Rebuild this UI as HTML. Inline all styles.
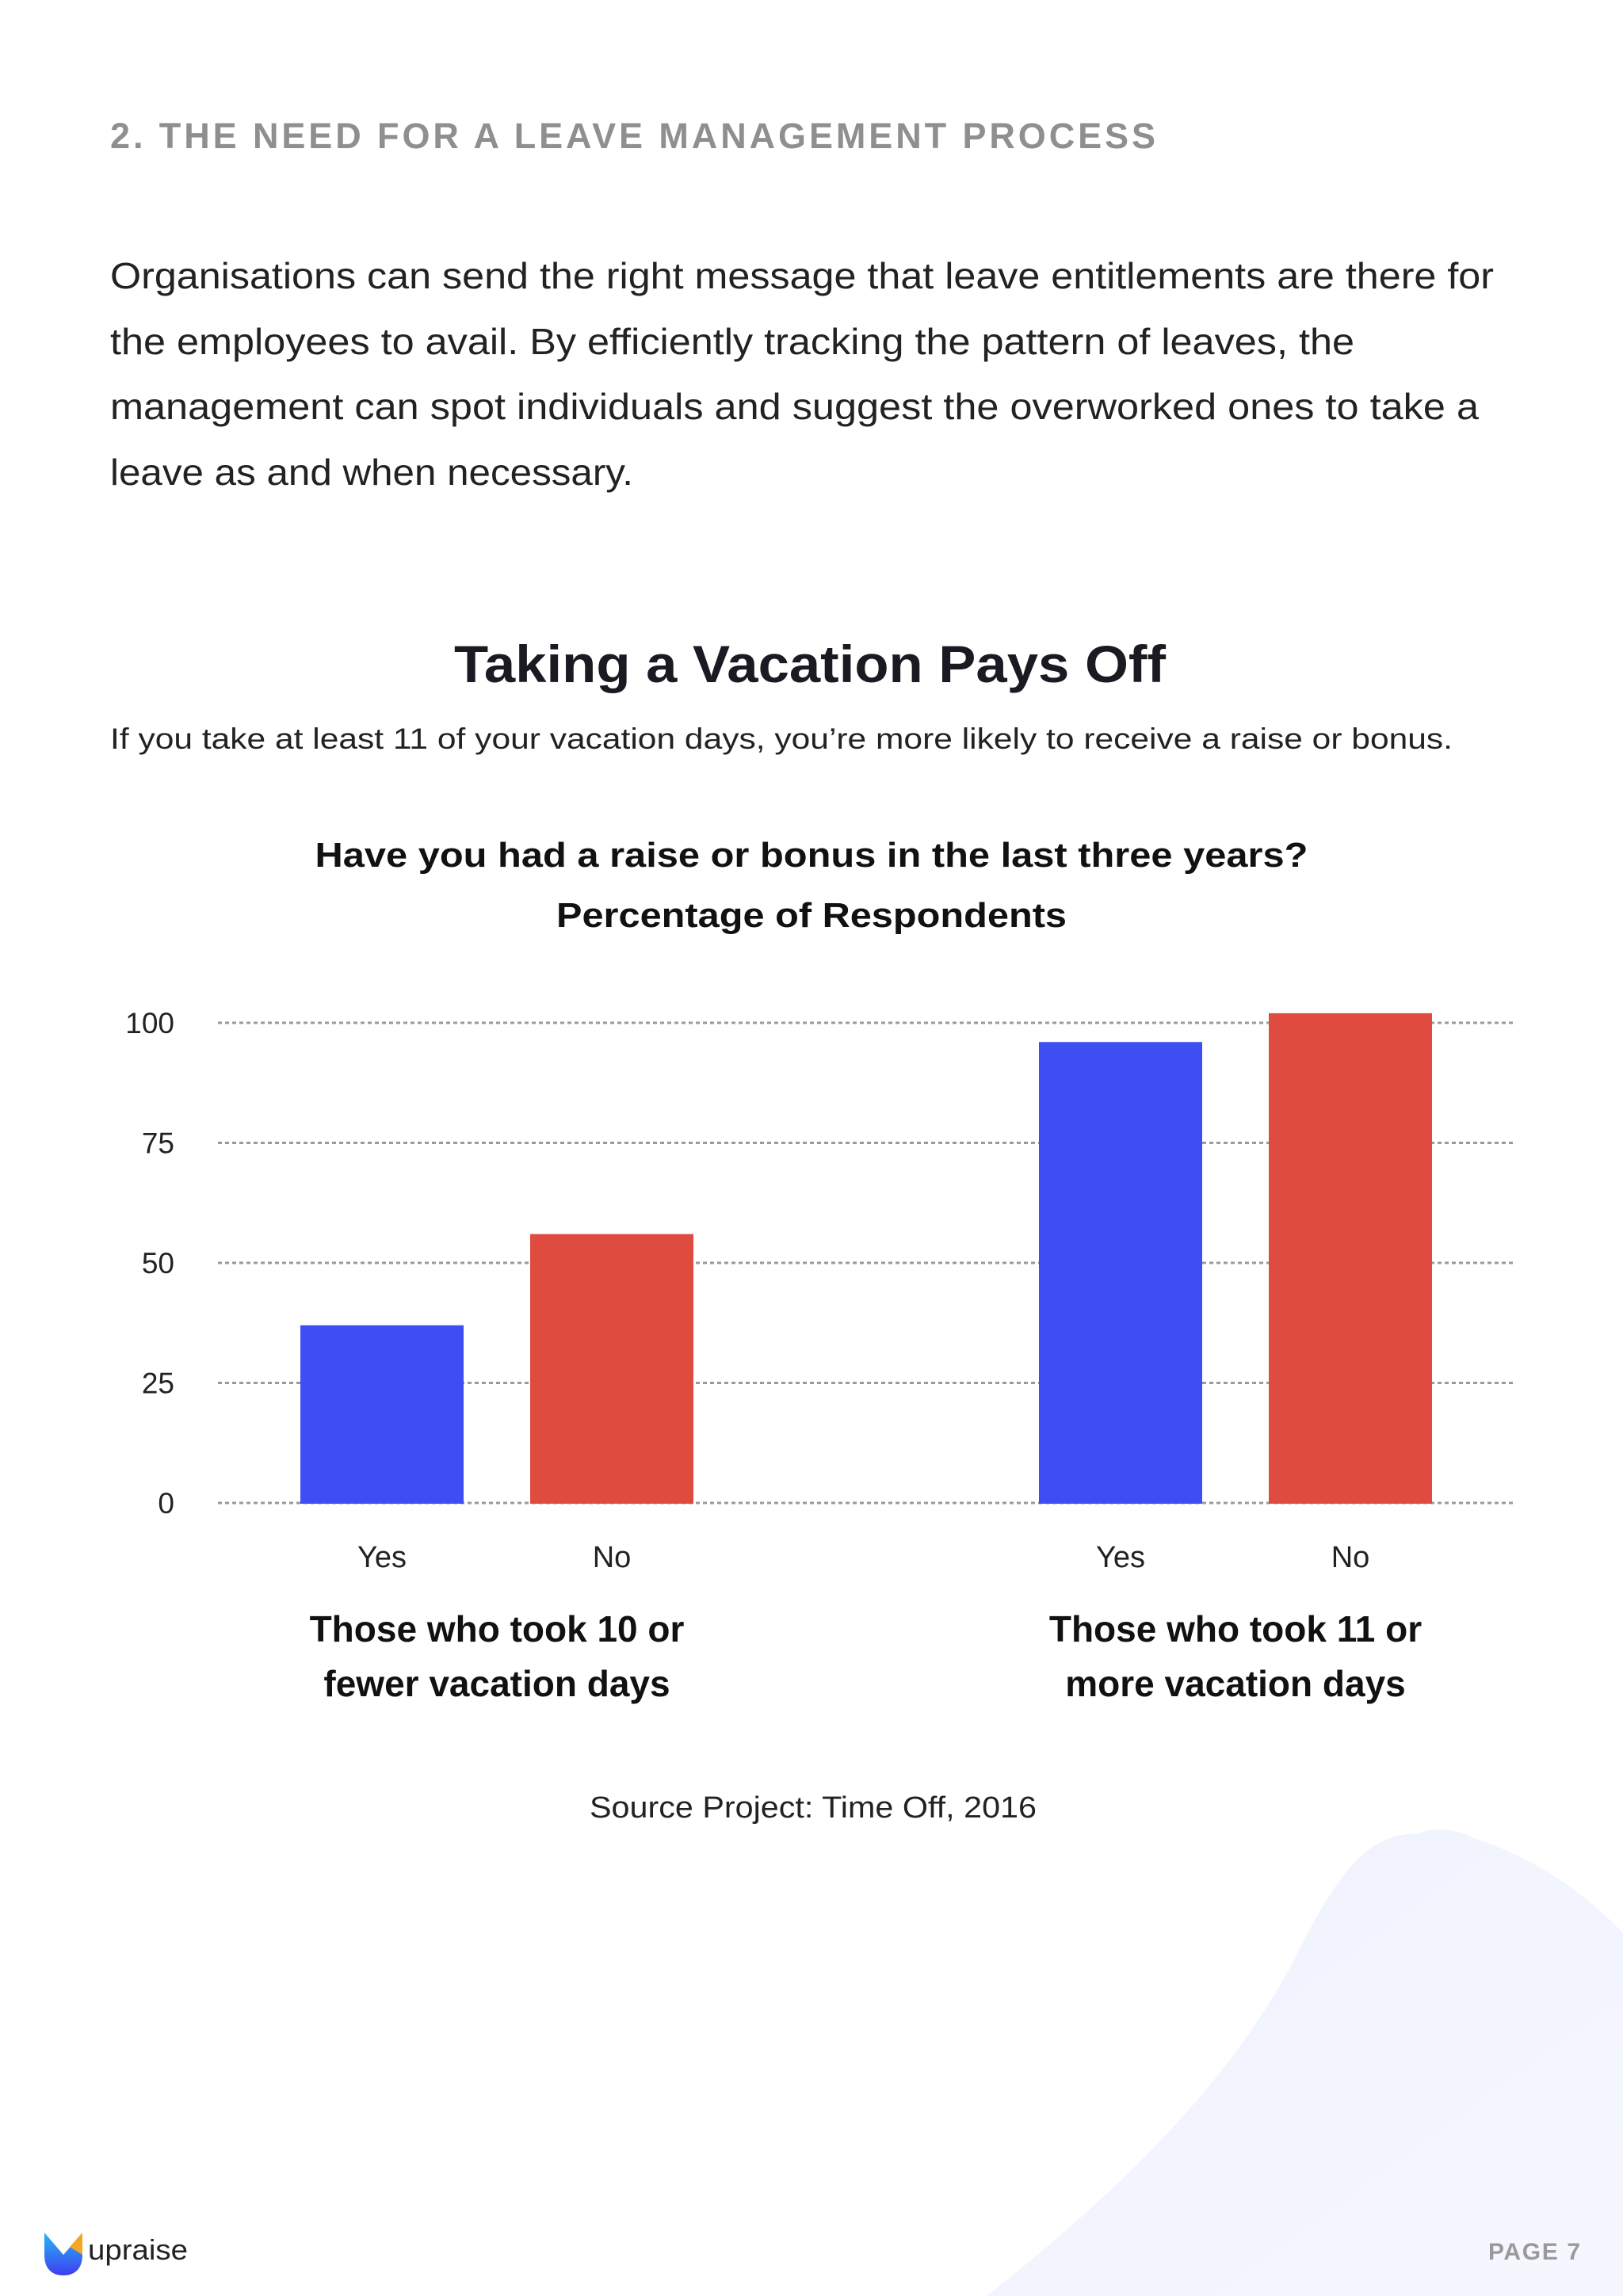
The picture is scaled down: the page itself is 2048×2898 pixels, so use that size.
<!DOCTYPE html>
<html><head><meta charset="utf-8"><style>
html,body{margin:0;padding:0;background:#fff;}
svg{display:block;font-family:"Liberation Sans",sans-serif;}
</style></head><body>
<svg id="page" width="2048" height="2898" viewBox="0 0 2048 2898">
<defs>
<linearGradient id="blob" x1="0" y1="0" x2="1" y2="1"><stop offset="0" stop-color="#eef1fd"/><stop offset="1" stop-color="#f6f7fe"/></linearGradient>
<linearGradient id="lg" x1="0" y1="0" x2="0" y2="1"><stop offset="0" stop-color="#2bb6f5"/><stop offset="1" stop-color="#3b3ff0"/></linearGradient>
</defs>
<path d="M1245 2898 C1400 2800 1560 2650 1640 2480 C1700 2350 1720 2310 1780 2440 C1720 2320 1800 2290 1860 2320 C1950 2350 2010 2400 2048 2440 L2048 2898 Z" fill="url(#blob)"/>
<path d="M1245 2898 C1420 2760 1560 2620 1640 2460 C1700 2340 1740 2310 1800 2315 C1900 2320 1990 2380 2048 2440 L2048 2898 Z" fill="url(#blob)"/>

<text x="139" y="187" font-size="45" font-weight="bold" fill="#8f8f8f" textLength="1319" lengthAdjust="spacing">2. THE NEED FOR A LEAVE MANAGEMENT PROCESS</text>

<g font-size="46" fill="#222">
<text x="139" y="364" textLength="1746" lengthAdjust="spacingAndGlyphs">Organisations can send the right message that leave entitlements are there for</text>
<text x="139" y="447" textLength="1570" lengthAdjust="spacingAndGlyphs">the employees to avail. By efficiently tracking the pattern of leaves, the</text>
<text x="139" y="529" textLength="1727" lengthAdjust="spacingAndGlyphs">management can spot individuals and suggest the overworked ones to take a</text>
<text x="139" y="612" textLength="660" lengthAdjust="spacingAndGlyphs">leave as and when necessary.</text>
</g>

<text x="1022" y="861" font-size="66" font-weight="bold" fill="#1a1a22" text-anchor="middle" textLength="898" lengthAdjust="spacingAndGlyphs">Taking a Vacation Pays Off</text>
<text x="139" y="945" font-size="37" fill="#222" textLength="1694" lengthAdjust="spacingAndGlyphs">If you take at least 11 of your vacation days, you’re more likely to receive a raise or bonus.</text>
<text x="1024" y="1094" font-size="44" font-weight="bold" fill="#111" text-anchor="middle" textLength="1253" lengthAdjust="spacingAndGlyphs">Have you had a raise or bonus in the last three years?</text>
<text x="1024" y="1170" font-size="44" font-weight="bold" fill="#111" text-anchor="middle" textLength="644" lengthAdjust="spacingAndGlyphs">Percentage of Respondents</text>

<g id="chart"></g>

<text x="1026" y="2294" font-size="38" fill="#222" text-anchor="middle" textLength="564" lengthAdjust="spacingAndGlyphs">Source Project: Time Off, 2016</text>

<g>
<path d="M56 2818 L80 2846 L104 2818 L104 2846 C104 2866 92 2872 80 2872 C66 2872 56 2864 56 2846 Z" fill="url(#lg)"/>
<path d="M104 2818 L104 2846 L88 2836 Z" fill="#f5a623"/>
<text x="111" y="2852" font-size="36" fill="#222" textLength="126" lengthAdjust="spacingAndGlyphs">upraise</text>
</g>
<text x="1994" y="2852" font-size="30" font-weight="bold" fill="#9a9a9a" text-anchor="end" textLength="116" lengthAdjust="spacing">PAGE 7</text>
</svg>
<script>
const ticks = [0, 25, 50, 75, 100];
const tickLabels = ["0", "25", "50", "75", "100"];
const groups = ["Those who took 10 or|fewer vacation days", "Those who took 11 or|more vacation days"];
const seriesNames = ["Yes", "No"];
const yesValues = [37, 96];
const noValues = [56, 102];

const NS = "http://www.w3.org/2000/svg";
const chart = document.getElementById("chart");
const y0 = 1897, y100 = 1291, xL = 275, xR = 1909;
function y(v){ return y0 + (y100 - y0) * v / 100; }
const groupStart = [379, 1311];
const barW = 206, barGap = 84;
function barX(g, s){ return groupStart[g] + s * (barW + barGap); }
function mk(tag, attrs){ const e = document.createElementNS(NS, tag); for (const k in attrs) e.setAttribute(k, attrs[k]); return e; }

ticks.forEach((t, i) => {
  const ln = mk("line", {x1: xL, x2: xR, y1: y(t), y2: y(t), stroke: "#9a9a9a", "stroke-width": 3, "stroke-dasharray": "5 4"});
  
  
  chart.appendChild(ln);
  const tx = mk("text", {x: 220, y: y(t) + 13, "font-size": 37, fill: "#222", "text-anchor": "end"});
  tx.textContent = tickLabels[i];
  
  
  chart.appendChild(tx);
});

const colors = ["#3f4ef3", "#e04b40"];
[yesValues, noValues].forEach((vals, s) => {
  vals.forEach((v, g) => {
    const r = mk("rect", {x: barX(g, s), y: y(v), width: barW, height: y0 - y(v) + 1, fill: colors[s]});
    
    
    chart.appendChild(r);
    const lb = mk("text", {x: barX(g, s) + barW / 2, y: 1978, "font-size": 38, fill: "#222", "text-anchor": "middle"});
    lb.textContent = seriesNames[s];
    
    
    chart.appendChild(lb);
  });
});

groups.forEach((gname, g) => {
  const cx = (barX(g, 0) + barX(g, 1) + barW) / 2;
  gname.split("|").forEach((line, li) => {
    const t = mk("text", {x: cx, y: 2072 + li * 69, "font-size": 46, "font-weight": "bold", fill: "#111", "text-anchor": "middle"});
    t.textContent = line;
    
    
    chart.appendChild(t);
  });
});
</script>
</body></html>
